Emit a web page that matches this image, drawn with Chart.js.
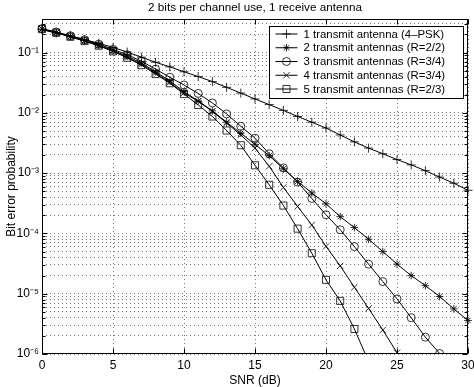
<!DOCTYPE html>
<html><head><meta charset="utf-8">
<script src="https://cdn.jsdelivr.net/npm/chart.js@4/dist/chart.umd.min.js"></script>
<style>html,body{margin:0;padding:0;background:#fff;}</style>
</head><body>
<canvas id="c" width="474" height="387"></canvas>
<script>
// ---------------- data ----------------
const snr = [0,1,2,3,4,5,6,7,8,9,10,11,12,13,14,15,16,17,18,19,20,21,22,23,24,25,26,27,28,29,30];
const ber1 = [0.24,0.21,0.19,0.165,0.142,0.122,0.102,0.084,0.069,0.058,0.048,0.040,0.033,0.0265,0.0213,0.017,0.0137,0.011,0.0087,0.0070,0.0056,0.0043,0.0033,0.0026,0.0021,0.00168,0.00137,0.0011,0.00086,0.00068,0.00052];
const ber2 = [0.245,0.215,0.186,0.158,0.133,0.108,0.087,0.067,0.048,0.034,0.0225,0.0158,0.0108,0.0070,0.0046,0.0030,0.00195,0.00118,0.00073,0.00047,0.00031,0.00019,0.000125,0.000080,0.000050,0.000031,0.000020,0.0000136,0.0000090,0.0000056,0.0000036];
const ber3 = [0.25,0.22,0.19,0.163,0.138,0.113,0.092,0.072,0.053,0.039,0.029,0.021,0.0146,0.0096,0.0060,0.0038,0.0021,0.00122,0.00071,0.00038,0.000204,0.000115,0.0000605,0.0000309,0.0000159,0.0000082,0.0000040,0.0000019,0.00000102];
const ber4 = [0.245,0.213,0.183,0.155,0.13,0.105,0.083,0.064,0.046,0.032,0.0214,0.0155,0.0106,0.0068,0.0043,0.0026,0.0013,0.00058,0.00028,0.000138,0.000061,0.000029,0.0000128,0.0000057,0.0000025,0.00000105];
const ber5 = [0.245,0.213,0.183,0.155,0.13,0.105,0.082,0.062,0.044,0.031,0.0205,0.0135,0.0087,0.0051,0.0029,0.00135,0.00064,0.00029,0.00012,0.000047,0.000017,0.0000076,0.0000026,0.00000075];
const seriesLabels = [
  "1 transmit antenna (4\u2013PSK)",
  "2 transmit antennas (R=2/2)",
  "3 transmit antennas (R=3/4)",
  "4 transmit antennas (R=3/4)",
  "5 transmit antennas (R=2/3)"
];
const xTicks = [0,5,10,15,20,25,30];
const yDecades = [1e-6,1e-5,1e-4,1e-3,1e-2,1e-1];
const yMantissas = [1,2,3,4,5,6,7,8,9];
const titleText = "2 bits per channel use, 1 receive antenna";
const xTitle = "SNR (dB)";
const yTitle = "Bit error probability";

// ---------------- styles ----------------
const FONT = '"Liberation Sans", Arial, Helvetica, sans-serif';
Chart.defaults.font.family = FONT;
Chart.defaults.font.size = 12;
Chart.defaults.color = '#000';

const markerStyles = [
  {pointStyle:'cross', radius:4.5},
  {pointStyle:'star', radius:3.8},
  {pointStyle:'circle', radius:4},
  {pointStyle:'crossRot', radius:4.5},
  {pointStyle:'rect', radius:5}
];
const allSeries = [ber1, ber2, ber3, ber4, ber5];
const Y_MIN = 1e-6, Y_MAX = 0.36;

const datasets = allSeries.map((arr, i) => ({
  label: seriesLabels[i],
  data: arr.map((v, k) => ({x: snr[k], y: v})),
  borderColor: '#000',
  borderWidth: 1,
  pointStyle: markerStyles[i].pointStyle,
  pointRadius: ctx => (ctx.raw && ctx.raw.y < Y_MIN) ? 0 : markerStyles[i].radius,
  pointHoverRadius: markerStyles[i].radius,
  pointBorderColor: '#000',
  pointBackgroundColor: 'rgba(0,0,0,0)',
  pointBorderWidth: 0.8,
  tension: 0,
  clip: {left: 6, top: 6, right: 6, bottom: 0}
}));

const SUP = {'-':'\u207B','0':'\u2070','1':'\u00B9','2':'\u00B2','3':'\u00B3','4':'\u2074','5':'\u2075','6':'\u2076','7':'\u2077','8':'\u2078','9':'\u2079'};
function isDecade(v){ const l = Math.log10(v); return Math.abs(l - Math.round(l)) < 1e-9; }
function decadeLabel(v){ const e = String(Math.round(Math.log10(v))); return '10' + e.split('').map(c => SUP[c]).join(''); }

// frame (box + inward ticks) and legend
const framePlugin = {
  id: 'frame',
  afterDraw(chart) {
    const {ctx, chartArea: a, scales: {x, y}} = chart;
    const L = Math.round(a.left) + 0.5, R = Math.round(a.right) - 0.5;
    const T = Math.round(a.top) + 0.5, B = Math.round(a.bottom) - 0.5;
    ctx.save();
    ctx.strokeStyle = '#000';
    ctx.lineWidth = 1;
    ctx.beginPath();
    x.ticks.forEach(t => {
      const px = Math.round(x.getPixelForValue(t.value)) + 0.5;
      ctx.moveTo(px, B); ctx.lineTo(px, B - 5);
      ctx.moveTo(px, T); ctx.lineTo(px, T + 5);
    });
    y.ticks.forEach(t => {
      const py = Math.round(y.getPixelForValue(t.value)) + 0.5;
      const len = isDecade(t.value) ? 5 : 3;
      ctx.moveTo(L, py); ctx.lineTo(L + len, py);
      ctx.moveTo(R, py); ctx.lineTo(R - len, py);
    });
    ctx.stroke();
    ctx.strokeRect(L, T, R - L, B - T);

    // legend
    const lx = 269.5, ly = 26.5, lw = 194, lh = 72, rowH = 13.75;
    ctx.fillStyle = '#fff';
    ctx.fillRect(lx, ly, lw, lh);
    ctx.strokeRect(lx, ly, lw, lh);
    ctx.font = '11.4px ' + FONT;
    ctx.textBaseline = 'middle';
    ctx.textAlign = 'left';
    chart.data.datasets.forEach((ds, i) => {
      const cy = ly + 7.5 + i * rowH;
      ctx.strokeStyle = '#000';
      ctx.lineWidth = 1;
      ctx.beginPath();
      ctx.moveTo(lx + 6, cy); ctx.lineTo(lx + 28, cy);
      ctx.stroke();
      ctx.lineWidth = 0.8;
      ctx.fillStyle = 'rgba(0,0,0,0)';
      Chart.helpers.drawPoint(ctx, {pointStyle: markerStyles[i].pointStyle, radius: markerStyles[i].radius, rotation: 0, borderWidth: 0.8}, lx + 17, cy);
      ctx.fillStyle = '#000';
      ctx.fillText(ds.label, lx + 34, cy + 0.5);
    });
    ctx.restore();
  }
};

new Chart(document.getElementById('c'), {
  type: 'line',
  data: {datasets},
  options: {
    responsive: false,
    animation: false,
    devicePixelRatio: 1,
    layout: {padding: {left: 0, right: 6, top: 0, bottom: 0}},
    plugins: {
      legend: {display: false},
      tooltip: {enabled: false},
      title: {
        display: true, text: titleText, color: '#000', fullSize: false,
        font: {size: 11.7, family: FONT, weight: 'normal', lineHeight: 1.2},
        padding: {top: 1, bottom: 4}
      }
    },
    scales: {
      x: {
        type: 'linear', min: 0, max: 30,
        afterBuildTicks: s => { s.ticks = xTicks.map(v => ({value: v})); },
        afterFit: s => { s.height = 33; s.paddingLeft = 0; s.paddingRight = 0; },
        ticks: {autoSkip: false, maxRotation: 0, padding: 4, color: '#000', font: {size: 12}},
        grid: {color: '#777', lineWidth: 1, drawTicks: false},
        border: {display: false, dash: [1, 3]},
        title: {display: true, text: xTitle, color: '#000', font: {size: 12, lineHeight: 1}, padding: {top: 0, bottom: 0}}
      },
      y: {
        type: 'logarithmic', min: Y_MIN, max: Y_MAX,
        afterBuildTicks: s => {
          const t = [];
          yDecades.forEach(d => yMantissas.forEach(m => {
            const v = m * d;
            if (v >= Y_MIN * 0.999 && v <= Y_MAX) t.push({value: v});
          }));
          s.ticks = t;
        },
        afterFit: s => { s.width = 42; s.paddingTop = 0; s.paddingBottom = 0; },
        ticks: {autoSkip: false, padding: 3, color: '#000', font: {size: 12},
          callback: v => isDecade(v) ? decadeLabel(v) : ''},
        grid: {color: '#777', lineWidth: 1, drawTicks: false},
        border: {display: false, dash: [1, 3]},
        title: {display: true, text: yTitle, color: '#000', font: {size: 12, lineHeight: 1.2}, padding: {top: 4, bottom: 0}}
      }
    }
  },
  plugins: [framePlugin]
});
</script>
</body></html>
